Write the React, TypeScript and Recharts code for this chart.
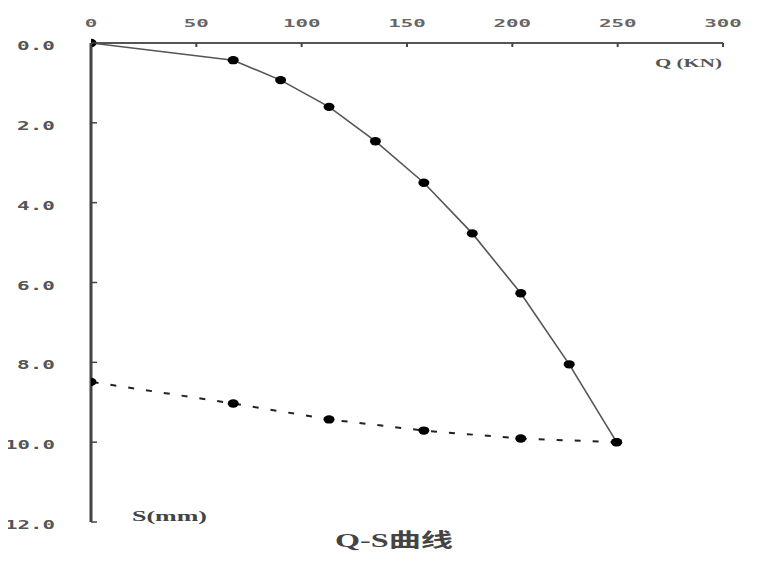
import React from 'react';
import { LineChart, Line, XAxis, YAxis } from 'recharts';

// loading curve (kN, mm)
const loadQ = [0, 67.5, 90, 113, 135, 158, 181, 204, 227, 249.5];
const loadS = [0, 0.43, 0.93, 1.6, 2.46, 3.5, 4.77, 6.27, 8.05, 10.0];
// unloading curve
const unloadQ = [249.5, 204, 158, 113, 67.5, 0];
const unloadS = [10.0, 9.91, 9.71, 9.43, 9.03, 8.49];

const qTicks = [0, 50, 100, 150, 200, 250, 300];
const sTicks = [0, 2, 4, 6, 8, 10, 12];

const loadData = loadQ.map((q, i) => ({ q, s: loadS[i] }));
const unloadData = unloadQ.map((q, i) => ({ q, s: unloadS[i] }));

const tickFont = '"DejaVu Sans Mono", monospace';
const serif = '"Liberation Serif", "Noto Sans CJK SC", serif';

const TopTick = (props: any) => {
  const { x, y, payload } = props;
  const label = String(payload.value);
  return (
    <g>
      <line x1={x} y1={y} x2={x} y2={y + 4} stroke="#444" strokeWidth={2} />
      <text x={x} y={y - 16} textAnchor="middle" fontFamily={tickFont} fontSize={11}
        fontWeight="bold" fill="#666" textLength={label.length * 12.5} lengthAdjust="spacingAndGlyphs">
        {label}
      </text>
    </g>
  );
};

const LeftTick = (props: any) => {
  const { x, y, payload } = props;
  const label = Number(payload.value).toFixed(1);
  return (
    <g>
      <line x1={x} y1={y} x2={x + 6} y2={y} stroke="#444" strokeWidth={1.5} />
      <text x={x - 36} y={y + 7} textAnchor="end" fontFamily={tickFont} fontSize={12}
        fontWeight="bold" fill="#555" textLength={label.length === 3 ? 38 : 50} lengthAdjust="spacingAndGlyphs">
        {label}
      </text>
    </g>
  );
};

const Dot = (props: any) => {
  const { cx, cy } = props;
  if (cx == null || cy == null) return null;
  return <ellipse cx={cx} cy={cy} rx={5.5} ry={4.2} fill="#000" />;
};

const App: React.FC = () => {
  return (
    <div style={{ position: 'relative', left: -8, top: -8, width: 752, height: 564 }}>
      <LineChart width={752} height={564} margin={{ top: 13, right: 29, bottom: 42, left: 13 }}>
        <XAxis
          type="number"
          dataKey="q"
          orientation="top"
          domain={[0, 300]}
          ticks={qTicks}
          height={30}
          tickSize={0}
          tickMargin={0}
          tick={<TopTick />}
          axisLine={{ stroke: '#555', strokeWidth: 2 }}
          tickLine={false}
          allowDataOverflow
        />
        <YAxis
          type="number"
          dataKey="s"
          reversed
          domain={[0, 12]}
          ticks={sTicks}
          width={78}
          tickSize={0}
          tickMargin={0}
          tick={<LeftTick />}
          axisLine={{ stroke: '#444', strokeWidth: 3 }}
          tickLine={false}
        />
        <Line
          data={loadData}
          dataKey="s"
          type="linear"
          stroke="#555"
          strokeWidth={1.6}
          dot={<Dot />}
          activeDot={false}
          isAnimationActive={false}
        />
        <Line
          data={unloadData}
          dataKey="s"
          type="linear"
          stroke="#222"
          strokeWidth={2}
          strokeDasharray="6 12"
          dot={<Dot />}
          activeDot={false}
          isAnimationActive={false}
        />
      </LineChart>
      <svg width={752} height={564} style={{ position: 'absolute', left: 0, top: 0, pointerEvents: 'none' }}>
        <text x={655} y={67} fontFamily={serif} fontSize={12} fontWeight="bold" fill="#555"
          textLength={67} lengthAdjust="spacingAndGlyphs">Q (KN)</text>
        <text x={132} y={521} fontFamily={serif} fontSize={15} fontWeight="bold" fill="#444"
          textLength={75} lengthAdjust="spacingAndGlyphs">S(mm)</text>
        <text x={335} y={547} fontFamily={serif} fontSize={19} fontWeight="bold" fill="#444"
          textLength={118} lengthAdjust="spacingAndGlyphs">Q-S曲线</text>
      </svg>
    </div>
  );
};

export default App;
